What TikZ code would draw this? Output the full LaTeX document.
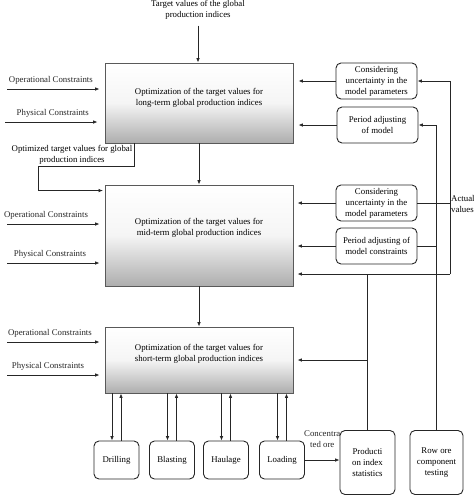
\documentclass[tikz,border=0pt]{standalone}
\usepackage{fontspec}
\setmainfont{Liberation Serif}
\usepackage{tikz}
\usetikzlibrary{positioning, arrows.meta}

\tikzset{
  optbox/.style={draw=black!65, line width=0.9pt, top color=white, bottom color=black!32, middle color=black!4, minimum width=188pt, inner sep=0pt},
  roundbox/.style={draw=black!85, line width=0.9pt, rounded corners=5pt, align=center, inner sep=1pt},
  lbl/.style={align=center, inner sep=0pt},
  arr/.style={-{Latex[length=4.5pt,width=3.6pt]}, line width=0.8pt, black!85},
  ln/.style={line width=0.8pt, black!85}
}

\begin{document}
\begin{tikzpicture}[x=1pt, y=-1pt, font=\fontsize{8.8}{11}\selectfont]
\useasboundingbox (0,0) rectangle (474,496);

% three optimization levels
\node[optbox, minimum height=80pt] (long) at (199,103) {};
\node[lbl] (longtxt) at (199,98) {Optimization of the target values for\\long-term global production indices};
\node[optbox, minimum height=101pt] (mid) at (199,235.5) {};
\node[lbl] (midtxt) at (199,228) {Optimization of the target values for\\mid-term global production indices};
\node[optbox, minimum height=66pt] (short) at (199,360) {};
\node[lbl] (shorttxt) at (199,354) {Optimization of the target values for\\short-term global production indices};

\node[lbl] (target) at (198,10) {Target values of the global\\production indices};
\draw[arr, shorten <=6pt] (target.south) -- (target.south |- long.north);
\draw[arr] (long) -- (mid);
\draw[arr] (mid) -- (short);

% constraints
\coordinate (op1) at (7,89);
\coordinate (ph1) at (5,122);
\coordinate (op2) at (7,224);
\coordinate (ph2) at (7,263);
\coordinate (op3) at (7,342);
\coordinate (ph3) at (7,375);
\draw[arr, shorten >=5pt] (op1) -- node[lbl, above=4pt, pos=0.45] (op1lbl) {Operational Constraints} (op1 -| long.west);
\draw[arr, shorten >=7pt] (ph1) -- node[lbl, above=4pt, pos=0.48] (ph1lbl) {Physical Constraints} (ph1 -| long.west);
\draw[arr, shorten >=5pt] (op2) -- node[lbl, above=4pt, pos=0.4] (op2lbl) {Operational Constraints} (op2 -| mid.west);
\draw[arr, shorten >=5pt] (ph2) -- node[lbl, above=4pt, pos=0.44] (ph2lbl) {Physical Constraints} (ph2 -| mid.west);
\draw[arr, shorten >=5pt] (op3) -- node[lbl, above=4pt, pos=0.44] (op3lbl) {Operational Constraints} (op3 -| short.west);
\draw[arr, shorten >=5pt] (ph3) -- node[lbl, above=4pt, pos=0.42] (ph3lbl) {Physical Constraints} (ph3 -| short.west);

\coordinate (optc) at (38,166);
\node[lbl] (optlbl) at (72,155) {Optimized target values for global\\production indices};
\draw[arr, shorten >=1.5pt] ([xshift=30pt]long.south west) |- (optc) |- ([yshift=-6pt]mid.north west);

% model adjusting
\node[roundbox, minimum width=81pt, minimum height=36pt] (cu1) at (376.5,81) {Considering\\uncertainty in the\\model parameters};
\node[roundbox, minimum width=81pt, minimum height=36pt] (pa1) at (377.5,125) {Period adjusting\\of model};
\node[roundbox, minimum width=81pt, minimum height=36pt] (cu2) at (376.5,203) {Considering\\uncertainty in the\\model parameters};
\node[roundbox, minimum width=81pt, minimum height=36pt] (pa2) at (376.5,246) {Period adjusting of\\model constraints};
\draw[arr, shorten >=5pt] (cu1.west) -- (cu1.west -| long.east);
\draw[arr, shorten >=5pt] (pa1.west) -- (pa1.west -| long.east);
\draw[arr, shorten >=4pt] (cu2.west) -- (cu2.west -| mid.east);
\draw[arr, shorten >=4pt] (pa2.west) -- (pa2.west -| mid.east);

% field operations
\node[roundbox, minimum width=45pt, minimum height=38pt] (drill) at (116.5,460) {Drilling};
\node[roundbox, minimum width=45pt, minimum height=38pt] (blast) at (172,460) {Blasting};
\node[roundbox, minimum width=45pt, minimum height=38pt] (haul) at (226,460) {Haulage};
\node[roundbox, minimum width=45pt, minimum height=38pt] (load) at (282,460) {Loading};
\node[roundbox, minimum width=55pt, minimum height=64pt] (prod) at (367.5,462.5) {Producti\\on index\\statistics};
\node[roundbox, minimum width=53pt, minimum height=64pt] (rowore) at (436.5,462.5) {Row ore\\component\\testing};

\draw[arr] ([xshift=-4.5pt]short.south -| drill.north) -- ([xshift=-4.5pt]drill.north);
\draw[arr] ([xshift=4.5pt]drill.north) -- ([xshift=4.5pt]short.south -| drill.north);
\draw[arr] ([xshift=-4.5pt]short.south -| blast.north) -- ([xshift=-4.5pt]blast.north);
\draw[arr] ([xshift=4.5pt]blast.north) -- ([xshift=4.5pt]short.south -| blast.north);
\draw[arr] ([xshift=-4.5pt]short.south -| haul.north) -- ([xshift=-4.5pt]haul.north);
\draw[arr] ([xshift=4.5pt]haul.north) -- ([xshift=4.5pt]short.south -| haul.north);
\draw[arr] ([xshift=-4.5pt]short.south -| load.north) -- ([xshift=-4.5pt]load.north);
\draw[arr] ([xshift=4.5pt]load.north) -- ([xshift=4.5pt]short.south -| load.north);
\draw[arr] (load.east) -- node[lbl, above=12pt] (conc) {Concentra\\ted ore} (load.east -| prod.west);

% actual values fed back
\coordinate (av) at (450,274);
\node[lbl, anchor=west, align=left] (actual) at (451,203.5) {Actual\\values};
\draw[arr] (av) |- (cu1.east);
\draw[arr, shorten >=4pt] (av) -- (av -| mid.east);
\draw[ln] (cu2.east) -- (cu2.east -| av);
\draw[arr] (rowore.north) |- (pa1.east);
\draw[ln] (pa2.east) -- (pa2.east -| rowore.north);
\draw[ln] (prod.north) -- (prod.north |- av);
\draw[arr, shorten >=4pt] (prod.north |- short.east) -- (short.east);
\end{tikzpicture}
\end{document}
